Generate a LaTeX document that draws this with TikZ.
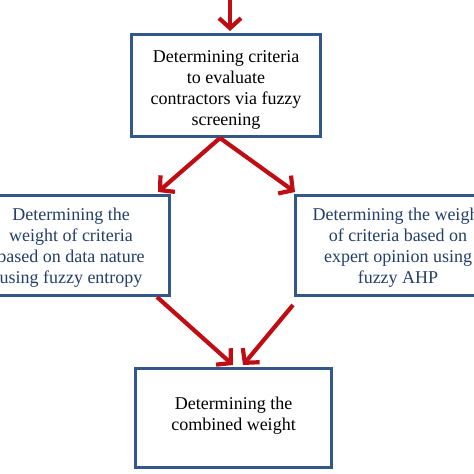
\documentclass[tikz,border=0pt]{standalone}
\usepackage{fontspec}
\setmainfont{Liberation Serif}
\usetikzlibrary{arrows.meta,calc}
\definecolor{boxblue}{HTML}{34578A}
\definecolor{txtblue}{HTML}{233F6A}
\definecolor{arrred}{HTML}{C00D14}
\tikzset{
  stepbox/.style={draw=boxblue, line width=3.2pt, fill=white, inner sep=0pt},
  steptext/.style={align=center, inner sep=0pt, font=\fontsize{18}{21}\selectfont},
  bluetext/.style={text=txtblue},
  flow/.style={draw=arrred, line width=4.2pt,
    -{Straight Barb[length=10pt,width=22pt,line width=4.2pt]}},
}
\begin{document}
\begin{tikzpicture}[x=1pt,y=-1pt]
\useasboundingbox (0,0) rectangle (474,474);
\node[stepbox, minimum width=188.8pt, minimum height=101.8pt] (top) at (226,85.5) {};
\node[steptext] (toptext) at ($(top.center)+(0,4)$)
  {Determining criteria\\to evaluate\\contractors via fuzzy\\screening};
\node[stepbox, minimum width=196.8pt, minimum height=99.8pt] (left) at (71,245.5) {};
\node[steptext, bluetext] (lefttext) at ($(left.center)+(0,2.5)$)
  {Determining the\\weight of criteria\\based on data nature\\using fuzzy entropy};
\node[stepbox, minimum width=204.8pt, minimum height=99.8pt] (right) at (398,245.5) {};
\node[steptext, bluetext] (righttext) at ($(right.center)+(0,2.5)$)
  {Determining the weight\\of criteria based on\\expert opinion using\\fuzzy AHP};
\node[stepbox, minimum width=195.8pt, minimum height=98.8pt] (bottom) at (233.5,418) {};
\node[steptext] (bottomtext) at ($(bottom.center)+(0,-2)$)
  {Determining the\\combined weight};
\coordinate (start) at (230,-2);
\coordinate (topin) at ($(top.north)+(4,-2)$);
\coordinate (topout) at ($(top.south)+(-6,0)$);
\coordinate (leftin) at ($(left.north east)+(-13,-2)$);
\coordinate (rightin) at ($(right.north west)+(1,-2)$);
\coordinate (leftout) at ($(left.south east)+(-14,0)$);
\coordinate (rightout) at ($(right.south west)+(-1,8)$);
\coordinate (botinl) at ($(bottom.north)+(-0.5,-2)$);
\coordinate (botinr) at ($(bottom.north)+(9.5,-2)$);
\draw[flow] (start) -- (topin);
\draw[flow] (topout) -- (leftin);
\draw[flow] (topout) -- (rightin);
\draw[flow] (leftout) -- (botinl);
\draw[flow] (rightout) -- (botinr);
\end{tikzpicture}
\end{document}
